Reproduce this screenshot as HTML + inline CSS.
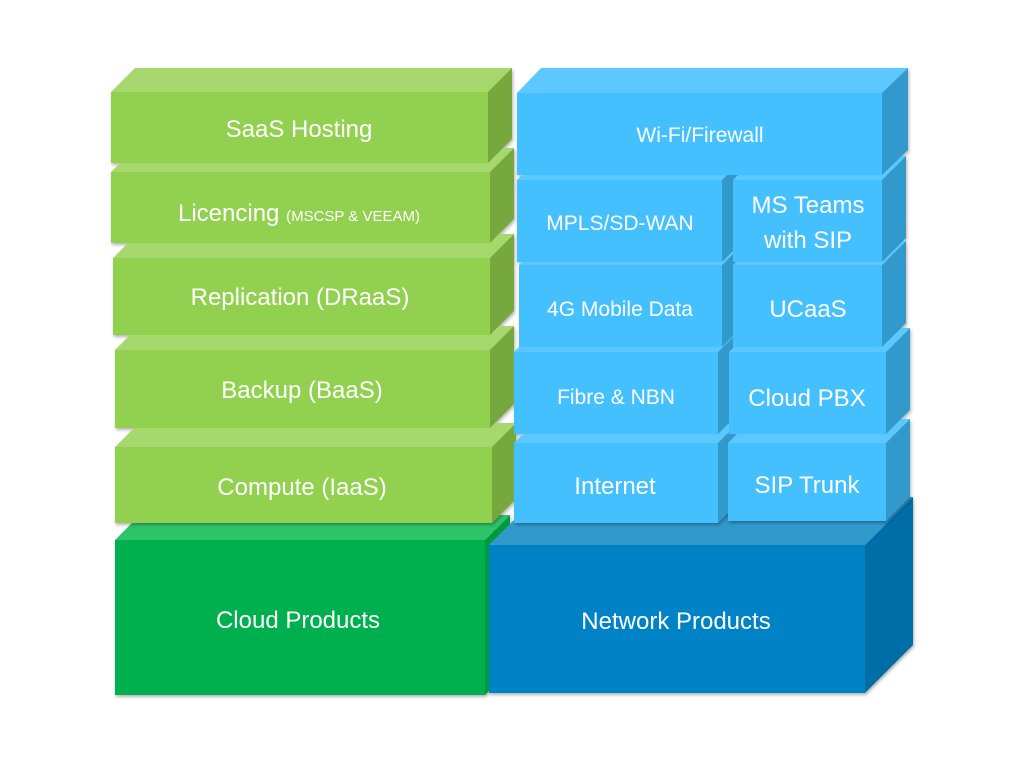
<!DOCTYPE html>
<html><head><meta charset="utf-8"><style>
html,body{margin:0;padding:0;background:#fff;}
svg text{font-family:"Liberation Sans",sans-serif;fill:#fff;text-anchor:middle;}
</style></head><body>
<svg width="1024" height="768" viewBox="0 0 1024 768" xmlns="http://www.w3.org/2000/svg">
<defs>
<filter id="sh" x="-5%" y="-5%" width="115%" height="120%"><feDropShadow dx="1" dy="2" stdDeviation="1.5" flood-color="#000" flood-opacity="0.3"/></filter>
</defs>
<g id="blocks" filter="url(#sh)">
<!-- Cloud products -->
<g><polygon points="115,540 140,515 510,515 485,540" fill="#2ec46a"/><polygon points="485,540 510,515 510,670 485,695" fill="#009a3c"/><rect x="115" y="540" width="370" height="155" fill="#00b050"/></g>
<!-- Network products -->
<g><polygon points="489,545 537,497 913,497 865,545" fill="#3399cc"/><polygon points="865,545 913,497 913,645 865,693" fill="#006ea6"/><rect x="489" y="545" width="376" height="148" fill="#0083c6"/></g>
</g>
<g filter="url(#sh)">
<!-- green -->
<g><polygon points="115,447 139,423 516,423 492,447" fill="#a6d86e"/><polygon points="492,447 516,423 516,499 492,523" fill="#77a83e"/><rect x="115" y="447" width="377" height="76" fill="#92d050"/></g>
<g><polygon points="115,350 139,326 514,326 490,350" fill="#a6d86e"/><polygon points="490,350 514,326 514,404 490,428" fill="#77a83e"/><rect x="115" y="350" width="375" height="78" fill="#92d050"/></g>
<g><polygon points="113,258 137,234 514,234 490,258" fill="#a6d86e"/><polygon points="490,258 514,234 514,311 490,335" fill="#77a83e"/><rect x="113" y="258" width="377" height="77" fill="#92d050"/></g>
<g><polygon points="111,172 135,148 514,148 490,172" fill="#a6d86e"/><polygon points="490,172 514,148 514,219 490,243" fill="#77a83e"/><rect x="111" y="172" width="379" height="71" fill="#92d050"/></g>
<g><polygon points="111,92 135,68 512,68 488,92" fill="#a6d86e"/><polygon points="488,92 512,68 512,139 488,163" fill="#77a83e"/><rect x="111" y="92" width="377" height="71" fill="#92d050"/></g>
<!-- blue -->
<g><polygon points="514,443 538,419 742,419 718,443" fill="#5cc8ff"/><polygon points="718,443 742,419 742,499 718,523" fill="#3399cc"/><rect x="514" y="443" width="204" height="80" fill="#45c0ff"/></g>
<g><polygon points="728,443 752,419 910,419 886,443" fill="#5cc8ff"/><polygon points="886,443 910,419 910,497 886,521" fill="#3399cc"/><rect x="728" y="443" width="158" height="78" fill="#45c0ff"/></g>
<g><polygon points="514,352 538,328 742,328 718,352" fill="#5cc8ff"/><polygon points="718,352 742,328 742,410 718,434" fill="#3399cc"/><rect x="514" y="352" width="204" height="82" fill="#45c0ff"/></g>
<g><polygon points="729,352 753,328 910,328 886,352" fill="#5cc8ff"/><polygon points="886,352 910,328 910,410 886,434" fill="#3399cc"/><rect x="729" y="352" width="157" height="82" fill="#45c0ff"/></g>
<g><polygon points="519,265 543,241 746,241 722,265" fill="#5cc8ff"/><polygon points="722,265 746,241 746,323 722,347" fill="#3399cc"/><rect x="519" y="265" width="203" height="82" fill="#45c0ff"/></g>
<g><polygon points="733,265 757,241 906,241 882,265" fill="#5cc8ff"/><polygon points="882,265 906,241 906,323 882,347" fill="#3399cc"/><rect x="733" y="265" width="149" height="82" fill="#45c0ff"/></g>
<g><polygon points="517,180 541,156 746,156 722,180" fill="#5cc8ff"/><polygon points="722,180 746,156 746,238 722,262" fill="#3399cc"/><rect x="517" y="180" width="205" height="82" fill="#45c0ff"/></g>
<g><polygon points="733,180 757,156 906,156 882,180" fill="#5cc8ff"/><polygon points="882,180 906,156 906,238 882,262" fill="#3399cc"/><rect x="733" y="180" width="149" height="82" fill="#45c0ff"/></g>
<g><polygon points="517,93 541,68 908,68 882,93" fill="#5cc8ff"/><polygon points="882,93 908,68 908,150 882,175" fill="#3399cc"/><rect x="517" y="93" width="365" height="82" fill="#45c0ff"/></g>
</g>
<!-- labels -->
<text x="299" y="137" font-size="24">SaaS Hosting</text>
<text x="299" y="221" font-size="24">Licencing <tspan font-size="15">(MSCSP &amp; VEEAM)</tspan></text>
<text x="300" y="305" font-size="24">Replication (DRaaS)</text>
<text x="302" y="398" font-size="24">Backup (BaaS)</text>
<text x="302" y="495" font-size="24">Compute (IaaS)</text>
<text x="298" y="628" font-size="24">Cloud Products</text>
<text x="676" y="629" font-size="24">Network Products</text>
<text x="700" y="142" font-size="21">Wi-Fi/Firewall</text>
<text x="620" y="230" font-size="21">MPLS/SD-WAN</text>
<text x="808" y="213" font-size="24">MS Teams</text>
<text x="808" y="248" font-size="24">with SIP</text>
<text x="620" y="316" font-size="21">4G Mobile Data</text>
<text x="808" y="317" font-size="24">UCaaS</text>
<text x="616" y="404" font-size="21">Fibre &amp; NBN</text>
<text x="807" y="406" font-size="24">Cloud PBX</text>
<text x="615" y="494" font-size="24">Internet</text>
<text x="807" y="493" font-size="24">SIP Trunk</text>
</svg>
</body></html>
